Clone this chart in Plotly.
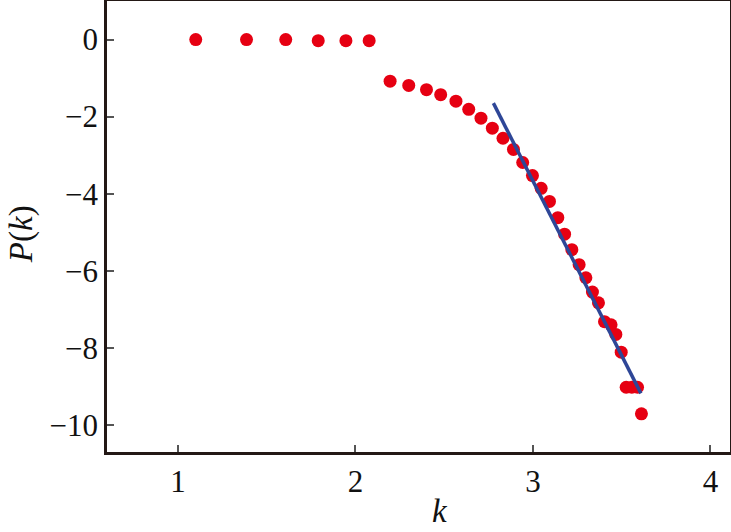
import plotly.graph_objects as go

# data
k_vals = [1.10, 1.386, 1.607, 1.79, 1.946, 2.077,
          2.195, 2.30, 2.40, 2.48, 2.566, 2.638, 2.707, 2.771, 2.831, 2.89,
          2.942, 2.997, 3.046, 3.093, 3.14, 3.178, 3.219, 3.26, 3.298, 3.335,
          3.369, 3.403, 3.44, 3.467, 3.497, 3.525, 3.557, 3.589, 3.611]
p_vals = [0.0, 0.0, 0.0, -0.03, -0.03, -0.03,
          -1.08, -1.19, -1.30, -1.43, -1.60, -1.81, -2.04, -2.30, -2.56, -2.85,
          -3.19, -3.53, -3.86, -4.20, -4.62, -5.05, -5.45, -5.84, -6.18, -6.55,
          -6.83, -7.32, -7.40, -7.65, -8.11, -9.02, -9.02, -9.02, -9.71]

fit_k = [2.777, 3.608]
fit_p = [-1.65, -9.18]

x_ticks = [1, 2, 3, 4]
y_ticks = [0, -2, -4, -6, -8, -10]

font_name = "Liberation Serif"
axis_col = "#231815"
tick_font = dict(family=font_name, size=31, color="#111111")
title_font = dict(family=font_name, size=33, color="#111111")

fig = go.Figure()

fig.add_trace(go.Scatter(
    x=k_vals, y=p_vals,
    mode="markers",
    marker=dict(color="#E60012", size=13, line=dict(width=0)),
    name="data"
))

fig.add_trace(go.Scatter(
    x=fit_k, y=fit_p,
    mode="lines",
    line=dict(color="#2E4697", width=3.5),
    name="fit"
))

fig.update_layout(
    width=731, height=532,
    autosize=False,
    margin=dict(l=107, r=1, t=1, b=80),
    paper_bgcolor="white",
    plot_bgcolor="white",
    showlegend=False,
    font=tick_font,
)

fig.update_xaxes(
    range=[0.6, 4.11],
    tickvals=x_ticks,
    tickfont=tick_font,
    ticks="inside", ticklen=7, tickwidth=1.5, tickcolor="#555555",
    showline=True, linecolor=axis_col, linewidth=2.5, mirror=True,
    showgrid=False, zeroline=False,
    automargin=False,
)
fig.update_yaxes(
    range=[-10.7, 1.0],
    tickvals=y_ticks,
    tickfont=tick_font,
    ticks="inside", ticklen=7, tickwidth=1.5, tickcolor="#555555",
    showline=True, linecolor=axis_col, linewidth=2.5, mirror=True,
    showgrid=False, zeroline=False,
    automargin=False,
)

# axis titles placed as annotations to match the reference offsets
fig.add_annotation(
    text="<i>k</i>", xref="paper", yref="paper",
    x=0.535, y=-0.13, xanchor="center", yanchor="middle",
    showarrow=False, font=title_font,
)
fig.add_annotation(
    text="<i>P</i>(<i>k</i>)", xref="paper", yref="paper",
    x=-0.138, y=0.483, xanchor="center", yanchor="middle",
    textangle=-90, showarrow=False, font=title_font,
)

# drop the browser's default page margin so the figure sits at the corner
fig.write_html("out.html", config=dict(displayModeBar=False),
               post_script="document.body.style.margin='0';")
